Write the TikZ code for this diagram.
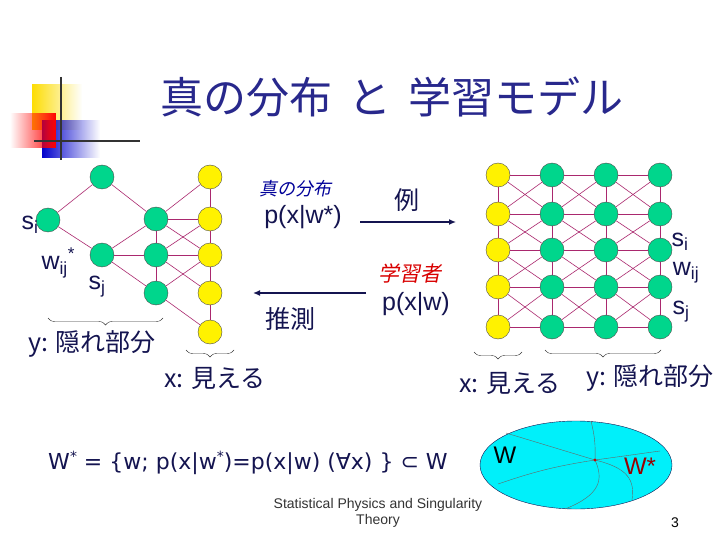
\documentclass[tikz,border=0pt]{standalone}
\usepackage{fontspec}
\setmainfont{Liberation Sans}
\newfontfamily\jp{Noto Sans CJK JP}
\newfontfamily\dvfont{DejaVu Sans}
\usetikzlibrary{decorations.pathreplacing,fadings,arrows.meta}
\definecolor{gr}{RGB}{0,214,140}
\definecolor{ttl}{RGB}{40,40,140}
\definecolor{ed}{RGB}{170,40,110}
\definecolor{nv}{RGB}{20,20,80}
\definecolor{aq}{RGB}{0,240,250}
\tikzset{
 g/.style={circle,draw=black!70,thin,fill=gr,minimum size=24pt,inner sep=0pt},
 yl/.style={circle,draw=black!70,thin,fill=yellow,minimum size=24pt,inner sep=0pt},
 ln/.style={draw=ed,line width=0.6pt},
 lbl/.style={text=nv,font=\fontsize{25}{27}\selectfont,inner sep=0pt},
 jl/.style={text=nv,font=\jp\fontsize{25}{27}\selectfont,inner sep=0pt},
 br/.style={decorate,decoration={brace,amplitude=7pt},draw=black!80,thin},
 arr/.style={draw=nv,line width=1.3pt,-{Latex[length=7pt,width=6pt]}}
}
\begin{document}
\begin{tikzpicture}[x=1pt,y=-1pt]
\useasboundingbox (0,0) rectangle (720,540);
\fill[white] (0,0) rectangle (720,540);
% decoration
\fill[yellow!80!orange,path fading=east] (32,84) rectangle (82,130);
\fill[blue!80!black,path fading=east] (42,120) rectangle (100,158);
\fill[red,path fading=west] (10,113) rectangle (56,148);
\draw[black!80,line width=2.5pt] (61,77) -- (61,160);
\draw[black!80,line width=2.5pt] (34,141) -- (140,141);
\node[text=ttl,font=\jp\fontsize{43}{45}\selectfont] (title) at (392,97) {真の分布\, と\, 学習モデル};
% left network
\node[g] (A) at (48,220) {};
\node[g] (B) at (102,177) {};
\node[g] (C) at (102,255) {};
\foreach \n/\y in {1/219,2/255,3/293} \node[g] (D\n) at (156,\y) {};
\foreach \n/\y in {1/177,2/219,3/255,4/293,5/332} \node[yl] (Y\n) at (210,\y) {};
\foreach \a/\b in {A/B,A/C,B/D1,C/D1,C/D2,C/D3,D1/D2,D2/D3,D1/Y1,D1/Y2,D1/Y3,D2/Y2,D2/Y3,D2/Y4,D3/Y3,D3/Y5,Y1/Y2,Y2/Y3,Y3/Y4,Y4/Y5}
  \path[ln] (\a) -- (\b);
\node[lbl] (si1) at (30,225) {s\textsubscript{i}};
\node[lbl] (wij1) at (58,263) {w\textsubscript{ij}\raisebox{10pt}{\fontsize{17}{17}\selectfont *}};
\node[lbl] (sj1) at (97,287) {s\textsubscript{j}};
\coordinate (b1a) at (48,318); \coordinate (b1b) at (163,318);
\draw[br] (b1b) -- (b1a);
\node[jl] (yl1) at (92,344) {y: 隠れ部分};
\coordinate (b2a) at (186,350); \coordinate (b2b) at (234,350);
\draw[br] (b2b) -- (b2a);
\node[jl] (xl1) at (215,378) {x: 見える};
% middle
\node[text=blue!60!black,font=\jp\fontsize{18}{20}\selectfont] (tru) at (295,189) {\addfontfeature{FakeSlant=0.2}真の分布};
\node[lbl] (pw) at (303,217) {p(x|w*)};
\node[jl] (rei) at (407,200) {例};
\coordinate (a1s) at (360,222); \coordinate (a1e) at (456,222);
\draw[arr] (a1s) -- (a1e);
\node[text=red!85!black,font=\jp\fontsize{21}{22}\selectfont] (gak) at (410,273) {\addfontfeature{FakeSlant=0.2}学習者};
\node[lbl] (pw2) at (416,304) {p(x|w)};
\coordinate (a2s) at (366,293); \coordinate (a2e) at (253,293);
\draw[arr] (a2s) -- (a2e);
\node[jl] (sui) at (290,319) {推測};
% right network
\foreach \c/\x in {1/498,2/552,3/606,4/660}
 \foreach \r/\y in {1/175,2/214,3/250,4/287,5/327}{
  \ifnum\c=1 \node[yl] (R\c\r) at (\x,\y) {}; \else \node[g] (R\c\r) at (\x,\y) {}; \fi }
\foreach \c in {1,2,3,4} \foreach \r/\s in {1/2,2/3,3/4,4/5} \path[ln] (R\c\r) -- (R\c\s);
\foreach \c/\d in {1/2,2/3,3/4} {
 \foreach \r in {1,...,5} \path[ln] (R\c\r) -- (R\d\r);
 \foreach \r/\s in {1/2,2/3,3/4,4/5} {\path[ln] (R\c\r) -- (R\d\s); \path[ln] (R\c\s) -- (R\d\r);}
}
\node[lbl] (si2) at (680,242) {s\textsubscript{i}};
\node[lbl] (wij2) at (686,273) {w\textsubscript{ij}};
\node[lbl] (sj2) at (681,312) {s\textsubscript{j}};
\coordinate (b3a) at (474,352); \coordinate (b3b) at (522,352);
\draw[br] (b3b) -- (b3a);
\node[jl] (xl2) at (510,383) {x: 見える};
\coordinate (b4a) at (545,350); \coordinate (b4b) at (661,350);
\draw[br] (b4b) -- (b4a);
\node[jl] (yl2) at (650,378) {y: 隠れ部分};
% bottom
\node[lbl,font=\dvfont\fontsize{22}{24}\selectfont] (eq) at (248,463) {W\raisebox{8pt}{\fontsize{14}{14}\selectfont *} = \{w; p(x|w\raisebox{8pt}{\fontsize{14}{14}\selectfont *})=p(x|w) (∀x) \} ⊂ W};
\node[align=center,font=\fontsize{14}{16}\selectfont,text=black!80] (foot) at (378,513) {Statistical Physics and Singularity\\Theory};
\node[font=\fontsize{14}{14}\selectfont] (pg) at (675,523) {3};
\path[fill=aq,draw=nv,thin] (576,465) ellipse [x radius=96, y radius=44];
\coordinate (ctr) at (595,460);
\draw[black!60,thin] (506,433) -- (ctr) -- (660,451);
\draw[black!60,thin] (498,484) to[bend left=5] (ctr);
\draw[black!60,thin] (591,421) to[bend left=8] (ctr) .. controls (604,480) and (600,495) .. (565,509);
\draw[black!60,thin] (ctr) .. controls (628,468) and (635,480) .. (632,500);
\fill[red!80!black] (ctr) circle (1.6);
\node[font=\fontsize{24}{24}\selectfont] (W) at (505,455) {W};
\node[font=\fontsize{24}{24}\selectfont,text=red!60!black] (Ws) at (640,466) {W*};
\end{tikzpicture}
\end{document}
